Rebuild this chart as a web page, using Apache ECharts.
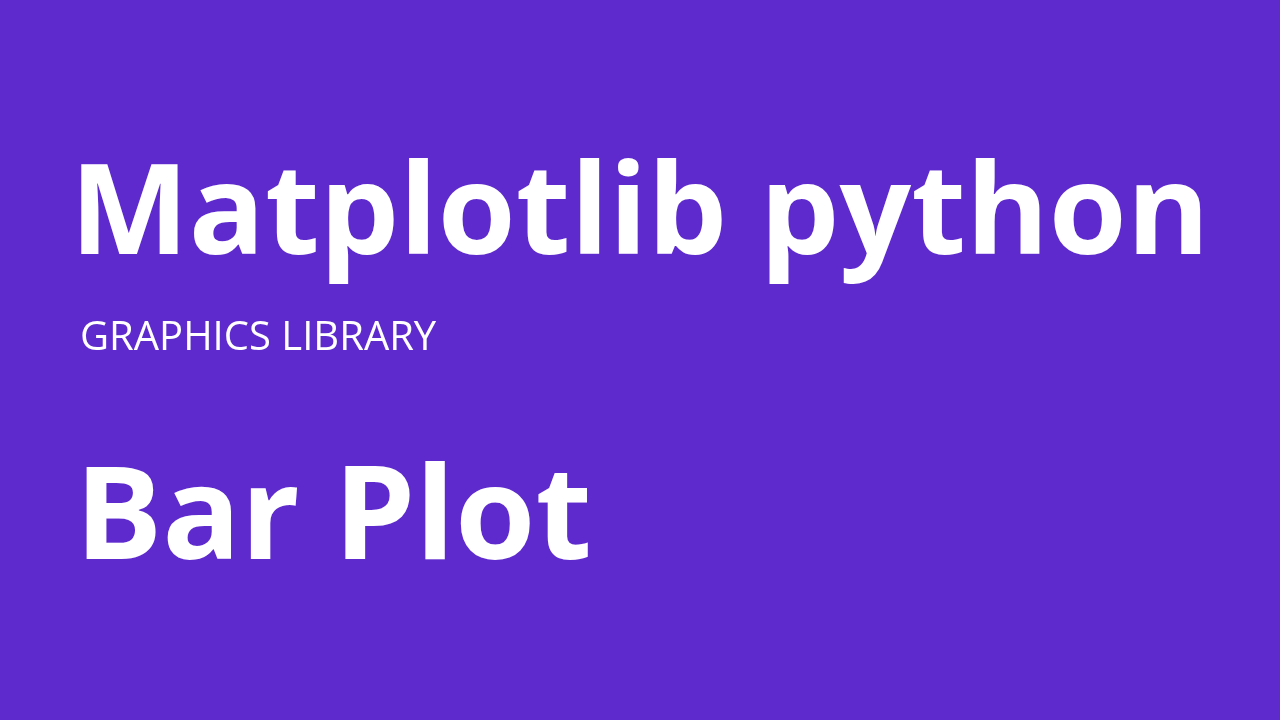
<!DOCTYPE html>
<html>
<head>
<meta charset="utf-8">
<title>Matplotlib python - Bar Plot</title>
<script src="https://cdn.jsdelivr.net/npm/echarts@6/dist/echarts.min.js"></script>
<style>
  html, body { margin: 0; padding: 0; background: #5e2ace; }
  #main { width: 1280px; height: 720px; }
</style>
</head>
<body>
<div id="main"></div>
<script>
// texts on the card
var headline = 'Matplotlib python';
var subline = 'GRAPHICS LIBRARY';
var topic = 'Bar Plot';

var bgColor = '#5e2ace';
var textColor = '#ffffff';

var myChart = echarts.init(document.getElementById('main'));
var option = {
    backgroundColor: bgColor,
    graphic: [
        {
            type: 'text',
            left: 70,
            top: 155,
            style: {
                text: headline,
                fill: textColor,
                font: 'bold 126px "Open Sans"'
            }
        },
        {
            type: 'text',
            left: 80,
            top: 319,
            style: {
                text: subline,
                fill: textColor,
                font: '40px "Open Sans"'
            }
        },
        {
            type: 'text',
            left: 75,
            top: 457,
            style: {
                text: topic,
                fill: textColor,
                font: 'bold 130px "Open Sans"'
            }
        }
    ]
};
myChart.setOption(option);
</script>
</body>
</html>
